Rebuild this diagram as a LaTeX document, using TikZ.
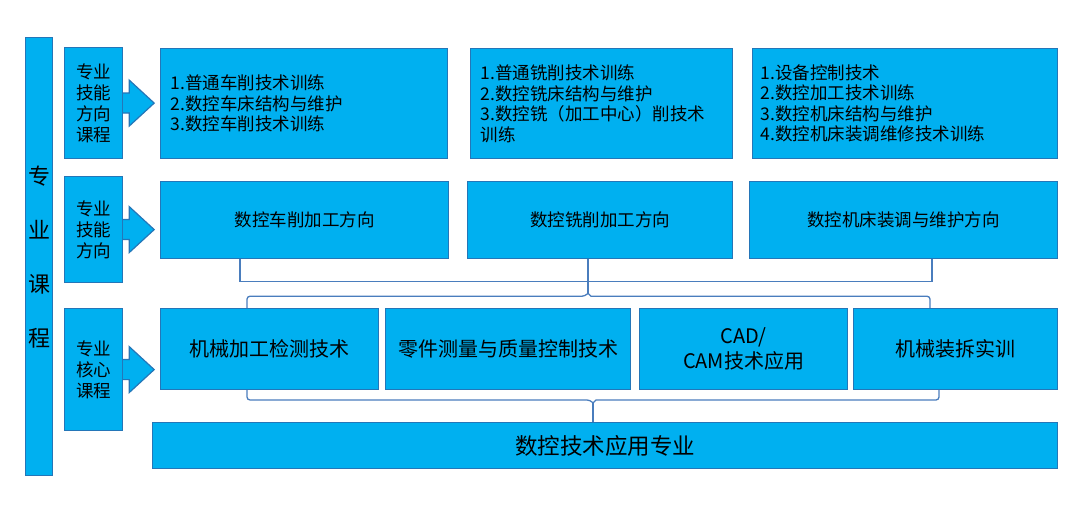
\documentclass[tikz,border=0pt]{standalone}
\usepackage{fontspec}
\newfontfamily\cjk{Noto Sans CJK SC}
\usetikzlibrary{calc}
\definecolor{boxfill}{HTML}{00B0F0}
\definecolor{boxline}{HTML}{2476B8}
\definecolor{brkline}{HTML}{4A7DBD}
\begin{document}
\begin{tikzpicture}[x=1pt,y=-1pt,
  box/.style={draw=boxline, fill=boxfill, line width=1.2pt, anchor=north west, inner sep=0pt, font=\cjk, text=black},
  lab/.style={box, minimum width=58pt, align=center, font=\cjk\fontsize{17.5}{21}\selectfont},
  listbox/.style={box, minimum height=110pt, align=left, inner xsep=10pt, font=\cjk\fontsize{17.5}{20.5}\selectfont},
  dirbox/.style={box, minimum height=77pt, align=center, font=\cjk\fontsize{17.5}{21}\selectfont},
  corebox/.style={box, minimum height=81pt, align=center, font=\cjk\fontsize{20}{25}\selectfont},
  arr/.style={draw=boxline, fill=boxfill, line width=1.2pt, line join=miter},
  brk/.style={draw=brkline, line width=1.3pt}
]
\useasboundingbox (0,0) rectangle (1080,513);

% left tall bar
\node[box, minimum width=27pt, minimum height=438pt, align=center, font=\cjk\fontsize{22}{54}\selectfont] (bar) at (25,37) {专\\业\\课\\程};

% label boxes
\node[lab, minimum height=111pt] (l1) at (64,47) {专业\\技能\\方向\\课程};
\node[lab, minimum height=106pt] (l2) at (64,176) {专业\\技能\\方向};
\node[lab, minimum height=122pt] (l3) at (64,308) {专业\\核心\\课程};

\foreach \n in {l1,l2,l3}{
  \filldraw[arr] ($(\n.east)+(0,-10)$) -- ++(6,0) -- ++(0,-13) -- ($(\n.east)+(31,0)$) -- ($(\n.east)+(6,23)$) -- ++(0,-13) -- ($(\n.east)+(0,10)$);
}

% row 1
\node[listbox, minimum width=287pt, text width=267pt] (r1a) at (160,48) {1.普通车削技术训练\\2.数控车床结构与维护\\3.数控车削技术训练};
\node[listbox, minimum width=262pt, text width=242pt] (r1b) at (470,48) {1.普通铣削技术训练\\2.数控铣床结构与维护\\3.数控铣（加工中心）削技术\\训练};
\node[listbox, minimum width=305pt, text width=289pt, inner xsep=8pt] (r1c) at (752,48) {1.设备控制技术\\2.数控加工技术训练\\3.数控机床结构与维护\\4.数控机床装调维修技术训练};

% row 2
\node[dirbox, minimum width=288pt] (r2a) at (160,181) {数控车削加工方向};
\node[dirbox, minimum width=265pt] (r2b) at (467,181) {数控铣削加工方向};
\node[dirbox, minimum width=308pt] (r2c) at (749,181) {数控机床装调与维护方向};

% row 3
\node[corebox, minimum width=218pt] (r3a) at (160,308) {机械加工检测技术};
\node[corebox, minimum width=245pt] (r3b) at (385,308) {零件测量与质量控制技术};
\node[corebox, minimum width=208pt] (r3c) at (639,308) {CAD/\\CAM技术应用};
\node[corebox, minimum width=204pt] (r3d) at (853,308) {机械装拆实训};

% bottom
\node[box, minimum width=905pt, minimum height=46pt, font=\cjk\fontsize{22.5}{27}\selectfont] (bot) at (152,422) {数控技术应用专业};

% upper bracket
\draw[brk] ($(r2a.south west)+(80,0)$) -- ++(0,22) -| ($(r2c.south west)+(183,0)$);
\draw[brk] ($(r2b.south west)+(121,0)$) -- ++(0,34) coordinate (mtip);
\draw[brk] ($(r3a.north west)+(87,0)$) [rounded corners=3pt] |- ($(mtip)+(-3,3)$) [sharp corners] -- (mtip) -- ($(mtip)+(3,3)$) [rounded corners=3pt] -| ($(r3d.north west)+(77,0)$);

% lower brace
\coordinate (btip) at ($(bot.north west)+(441,0)$);
\draw[brk] ($(r3a.south west)+(87,0)$) [rounded corners=3pt] |- ($(btip)+(-3,-22)$) [sharp corners] -- ($(btip)+(0,-19)$) -- ($(btip)+(3,-22)$) [rounded corners=3pt] -| ($(r3d.south west)+(86,0)$);
\draw[brk] ($(btip)+(0,-19)$) -- (btip);
\end{tikzpicture}
\end{document}
